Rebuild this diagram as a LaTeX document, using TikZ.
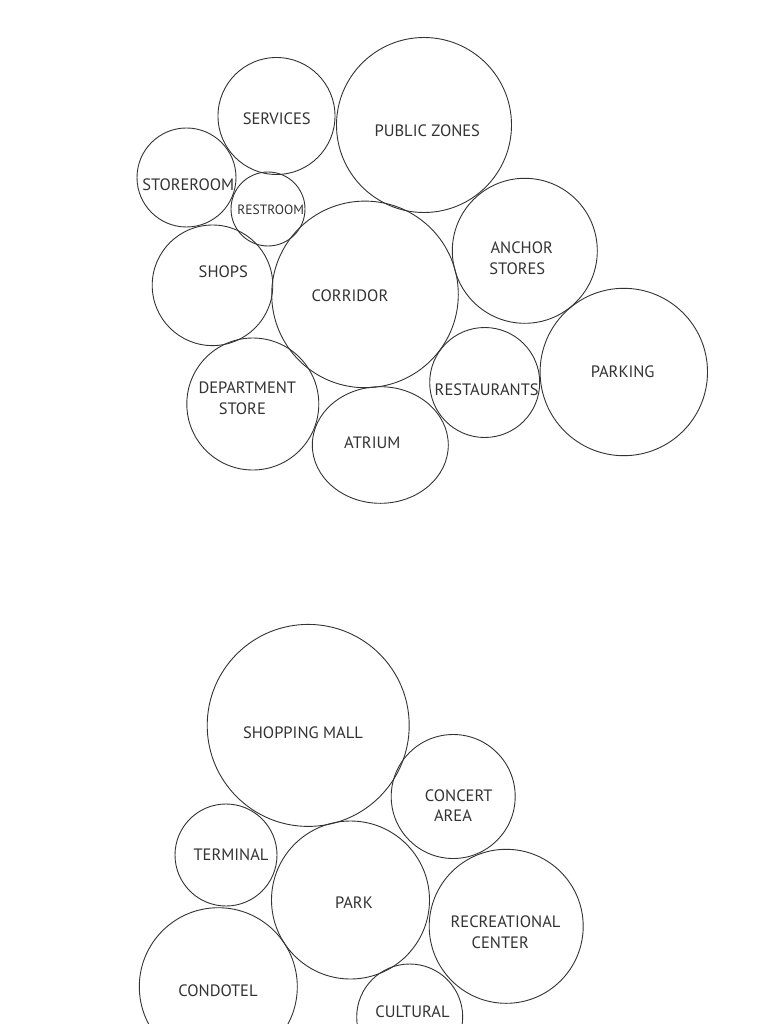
\documentclass[tikz,border=0pt]{standalone}
\usepackage{fontspec}
\setmainfont{PT Sans}
\usetikzlibrary{shapes.geometric}
\definecolor{ink}{HTML}{333333}
\tikzset{
  bub/.style={circle, draw=ink, line width=0.9pt, inner sep=0pt, outer sep=0pt, minimum size=#1},
  oval/.style={ellipse, draw=ink, line width=0.9pt, inner sep=0pt, outer sep=0pt},
  lbl/.style={text=ink, inner sep=0pt, font=\fontsize{16.5}{20}\selectfont, text height=11.5pt, text depth=0pt, anchor=center},
  slbl/.style={text=ink, inner sep=0pt, font=\fontsize{13.5}{16}\selectfont, text height=9.4pt, text depth=0pt, anchor=center}
}
\begin{document}
\begin{tikzpicture}[x=1pt,y=-1pt]
\useasboundingbox (0,0) rectangle (768,1024);
\fill[white] (0,0) rectangle (768,1024);
% ---- top diagram ----
\node[bub=117pt] (services) at (276.5,116) {};
\node[bub=175pt] (public) at (424,125) {};
\node[bub=99pt] (storeroom) at (186.5,177.5) {};
\node[bub=74pt] (restroom) at (268,209) {};
\node[bub=120.6pt] (shops) at (212.5,285.3) {};
\node[bub=186.6pt] (corridor) at (365,294.4) {};
\node[bub=145pt] (anchor) at (524.8,250.8) {};
\node[bub=167.4pt] (parking) at (623.8,372) {};
\node[bub=110pt] (restaurants) at (484.7,382.5) {};
\node[bub=132pt] (dept) at (252.8,404) {};
\node[oval, minimum width=136pt, minimum height=116.6pt] (atrium) at (380.3,445) {};

\node[lbl] (tservices) at (276.7,119) {SERVICES};
\node[lbl] (tpublic) at (427.3,130.7) {PUBLIC ZONES};
\node[lbl] (tstoreroom) at (188.3,185) {STOREROOM};
\node[slbl] (trestroom) at (270.7,210) {RESTROOM};
\node[lbl] (tshops) at (223.3,271.7) {SHOPS};
\node[lbl] (tcorridor) at (350,295.7) {CORRIDOR};
\node[lbl] (tanchorA) at (521.7,247.7) {ANCHOR};
\node[lbl] (tanchorB) at (517.3,268.7) {STORES};
\node[lbl] (tparking) at (622.7,371.7) {PARKING};
\node[lbl] (trestaurants) at (486.7,390) {RESTAURANTS};
\node[lbl] (tdeptA) at (247.3,387.3) {DEPARTMENT};
\node[lbl] (tdeptB) at (242.3,408.3) {STORE};
\node[lbl] (tatrium) at (372.3,442.7) {ATRIUM};
% ---- bottom diagram ----
\node[bub=202pt] (mall) at (308.2,725.4) {};
\node[bub=124pt] (concert) at (453.2,796.5) {};
\node[bub=102pt] (terminal) at (226,855) {};
\node[bub=158pt] (park) at (350.5,900) {};
\node[bub=154pt] (rec) at (506.2,926.3) {};
\node[bub=158pt] (condotel) at (218.3,986.7) {};
\node[bub=106pt] (cultural) at (409.7,1017) {};

\node[lbl] (tmall) at (303,733) {SHOPPING MALL};
\node[lbl] (tconcertA) at (458.7,796) {CONCERT};
\node[lbl] (tconcertB) at (453,816) {AREA};
\node[lbl] (tterminal) at (231,855) {TERMINAL};
\node[lbl] (tpark) at (354,903) {PARK};
\node[lbl] (trecA) at (505.5,922) {RECREATIONAL};
\node[lbl] (trecB) at (500.3,943) {CENTER};
\node[lbl] (tcondotel) at (218,991) {CONDOTEL};
\node[lbl] (tcultural) at (412.5,1012) {CULTURAL};
\end{tikzpicture}
\end{document}
